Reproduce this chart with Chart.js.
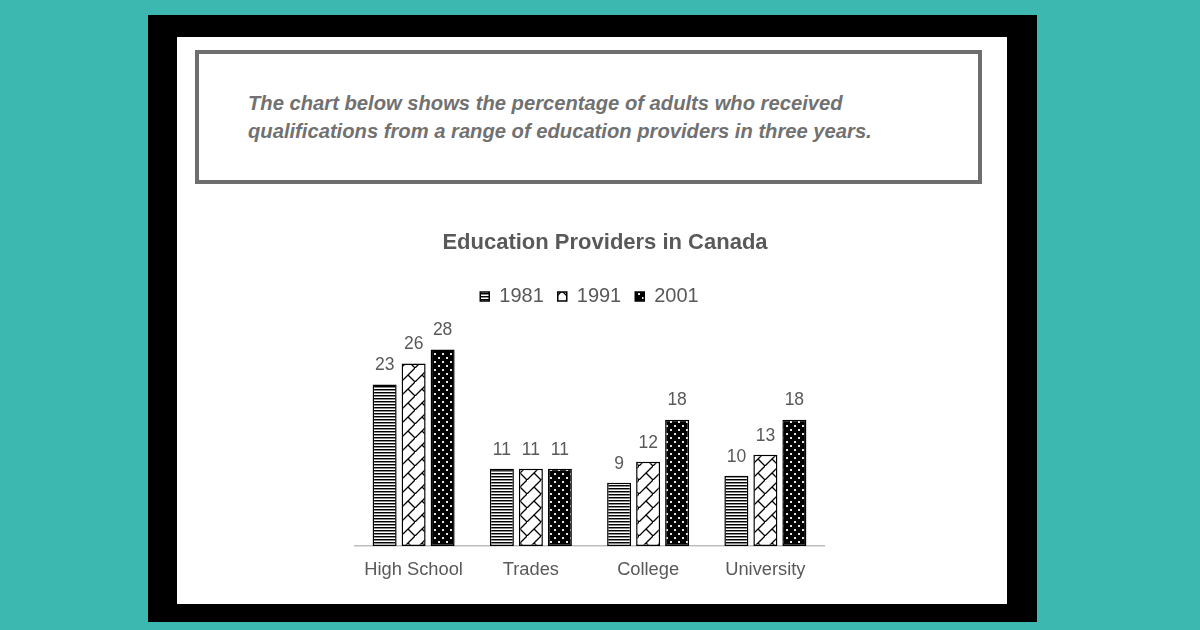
<!DOCTYPE html>
<html>
<head>
<meta charset="utf-8">
<script src="https://cdn.jsdelivr.net/npm/chart.js@4.4.0/dist/chart.umd.min.js"></script>
<style>
body{margin:0;width:1200px;height:630px;background:#3cb8b0;position:relative;overflow:hidden;font-family:"Liberation Sans",Arial,sans-serif}
#frame{position:absolute;left:148px;top:15px;width:889px;height:607px;background:#000}
#paper{position:absolute;left:177px;top:37px;width:830px;height:567px;background:#fff}
#note{position:absolute;left:195px;top:50px;width:779px;height:126px;border:4px solid #6e6e6e}
#note p{margin:0;position:absolute;left:49px;top:35px;font-weight:bold;font-style:italic;font-size:20.2px;line-height:28px;color:#717171;white-space:nowrap}
#chart{position:absolute;left:177px;top:200px}
</style>
</head>
<body>
<div id="frame"></div>
<div id="paper"></div>
<div id="note"><p>The chart below shows the percentage of adults who received<br>qualifications from a range of education providers in three years.</p></div>
<canvas id="chart" width="856" height="404"></canvas>
<script>
const categories = ['High School', 'Trades', 'College', 'University'];
const years = ['1981', '1991', '2001'];
const values1981 = [23, 11, 9, 10];
const values1991 = [26, 11, 12, 13];
const values2001 = [28, 11, 18, 18];

const textGrey = '#595959';
const fontFamily = '"Liberation Sans", Arial, sans-serif';

// fill patterns like the old Excel hatches
function makeTile(size, draw) {
    const c = document.createElement('canvas');
    c.width = size;
    c.height = size;
    draw(c.getContext('2d'));
    return document.getElementById('chart').getContext('2d').createPattern(c, 'repeat');
}

const stripes = makeTile(3, g => {
    g.fillStyle = '#fff';
    g.fillRect(0, 0, 3, 3);
    g.fillStyle = '#000';
    g.fillRect(0, 0, 3, 1);
    g.fillStyle = '#8a8a8a';
    g.fillRect(0, 1, 3, 1);
});

const brick = makeTile(14, g => {
    g.fillStyle = '#fff';
    g.fillRect(0, 0, 14, 14);
    g.strokeStyle = '#000';
    g.lineWidth = 1.3;
    g.beginPath();
    g.moveTo(-1, 15); g.lineTo(15, -1);
    g.moveTo(7, 7); g.lineTo(15, 15);
    g.moveTo(-1, -1); g.lineTo(0, 0);
    g.stroke();
});

const dots = makeTile(8, g => {
    g.fillStyle = '#000';
    g.fillRect(0, 0, 8, 8);
    g.fillStyle = '#e6e6e6';
    g.fillRect(1, 1, 2, 2);
    g.fillRect(5, 5, 2, 2);
});

const valueLabels = {
    id: 'valueLabels',
    afterDatasetsDraw(chart) {
        const ctx = chart.ctx;
        ctx.save();
        ctx.font = '17.5px ' + fontFamily;
        ctx.fillStyle = textGrey;
        ctx.textAlign = 'center';
        ctx.textBaseline = 'middle';
        chart.data.datasets.forEach((ds, i) => {
            chart.getDatasetMeta(i).data.forEach((bar, j) => {
                ctx.fillText(ds.data[j], bar.x, bar.y - 19);
            });
        });
        ctx.restore();
    }
};

// extra room under the legend
const legendGap = {
    id: 'legendGap',
    beforeInit(chart) {
        const fit = chart.legend.fit;
        chart.legend.fit = function () {
            fit.bind(chart.legend)();
            this.height += 19;
        };
    }
};

const barStyle = {
    borderColor: '#000',
    borderWidth: 1.5,
    borderSkipped: false,
    categoryPercentage: 0.742,
    barPercentage: 0.828
};

// hidden axes only used to hold the plot's side margins
const hiddenSide = width => ({
    display: true,
    grid: { display: false },
    border: { display: false },
    ticks: { display: false },
    afterFit(scale) { scale.width = width; }
});

new Chart(document.getElementById('chart'), {
    type: 'bar',
    data: {
        labels: categories,
        datasets: [
            Object.assign({ label: years[0], data: values1981, backgroundColor: stripes }, barStyle),
            Object.assign({ label: years[1], data: values1991, backgroundColor: brick }, barStyle),
            Object.assign({ label: years[2], data: values2001, backgroundColor: dots }, barStyle)
        ]
    },
    options: {
        responsive: false,
        animation: false,
        devicePixelRatio: 1,
        layout: {
            padding: { left: 0, right: 0, top: 0, bottom: 10 }
        },
        plugins: {
            title: {
                display: true,
                text: 'Education Providers in Canada',
                color: textGrey,
                font: { family: fontFamily, size: 22, weight: 'bold' },
                padding: { top: 30, bottom: 16 }
            },
            legend: {
                position: 'top',
                fullSize: false,
                labels: {
                    color: textGrey,
                    font: { family: fontFamily, size: 20 },
                    boxWidth: 9,
                    boxHeight: 9,
                    padding: 14
                }
            },
            tooltip: { enabled: false }
        },
        scales: {
            x: {
                grid: { display: false, drawTicks: false },
                border: { display: true, color: '#bdbdbd', width: 1.5 },
                ticks: {
                    color: textGrey,
                    font: { family: fontFamily, size: 18.3 },
                    padding: 13
                }
            },
            y: Object.assign({ position: 'left', min: 0, max: 30 }, hiddenSide(178)),
            yRight: Object.assign({ type: 'linear', position: 'right' }, hiddenSide(209))
        }
    },
    plugins: [valueLabels, legendGap]
});
</script>
</body>
</html>
